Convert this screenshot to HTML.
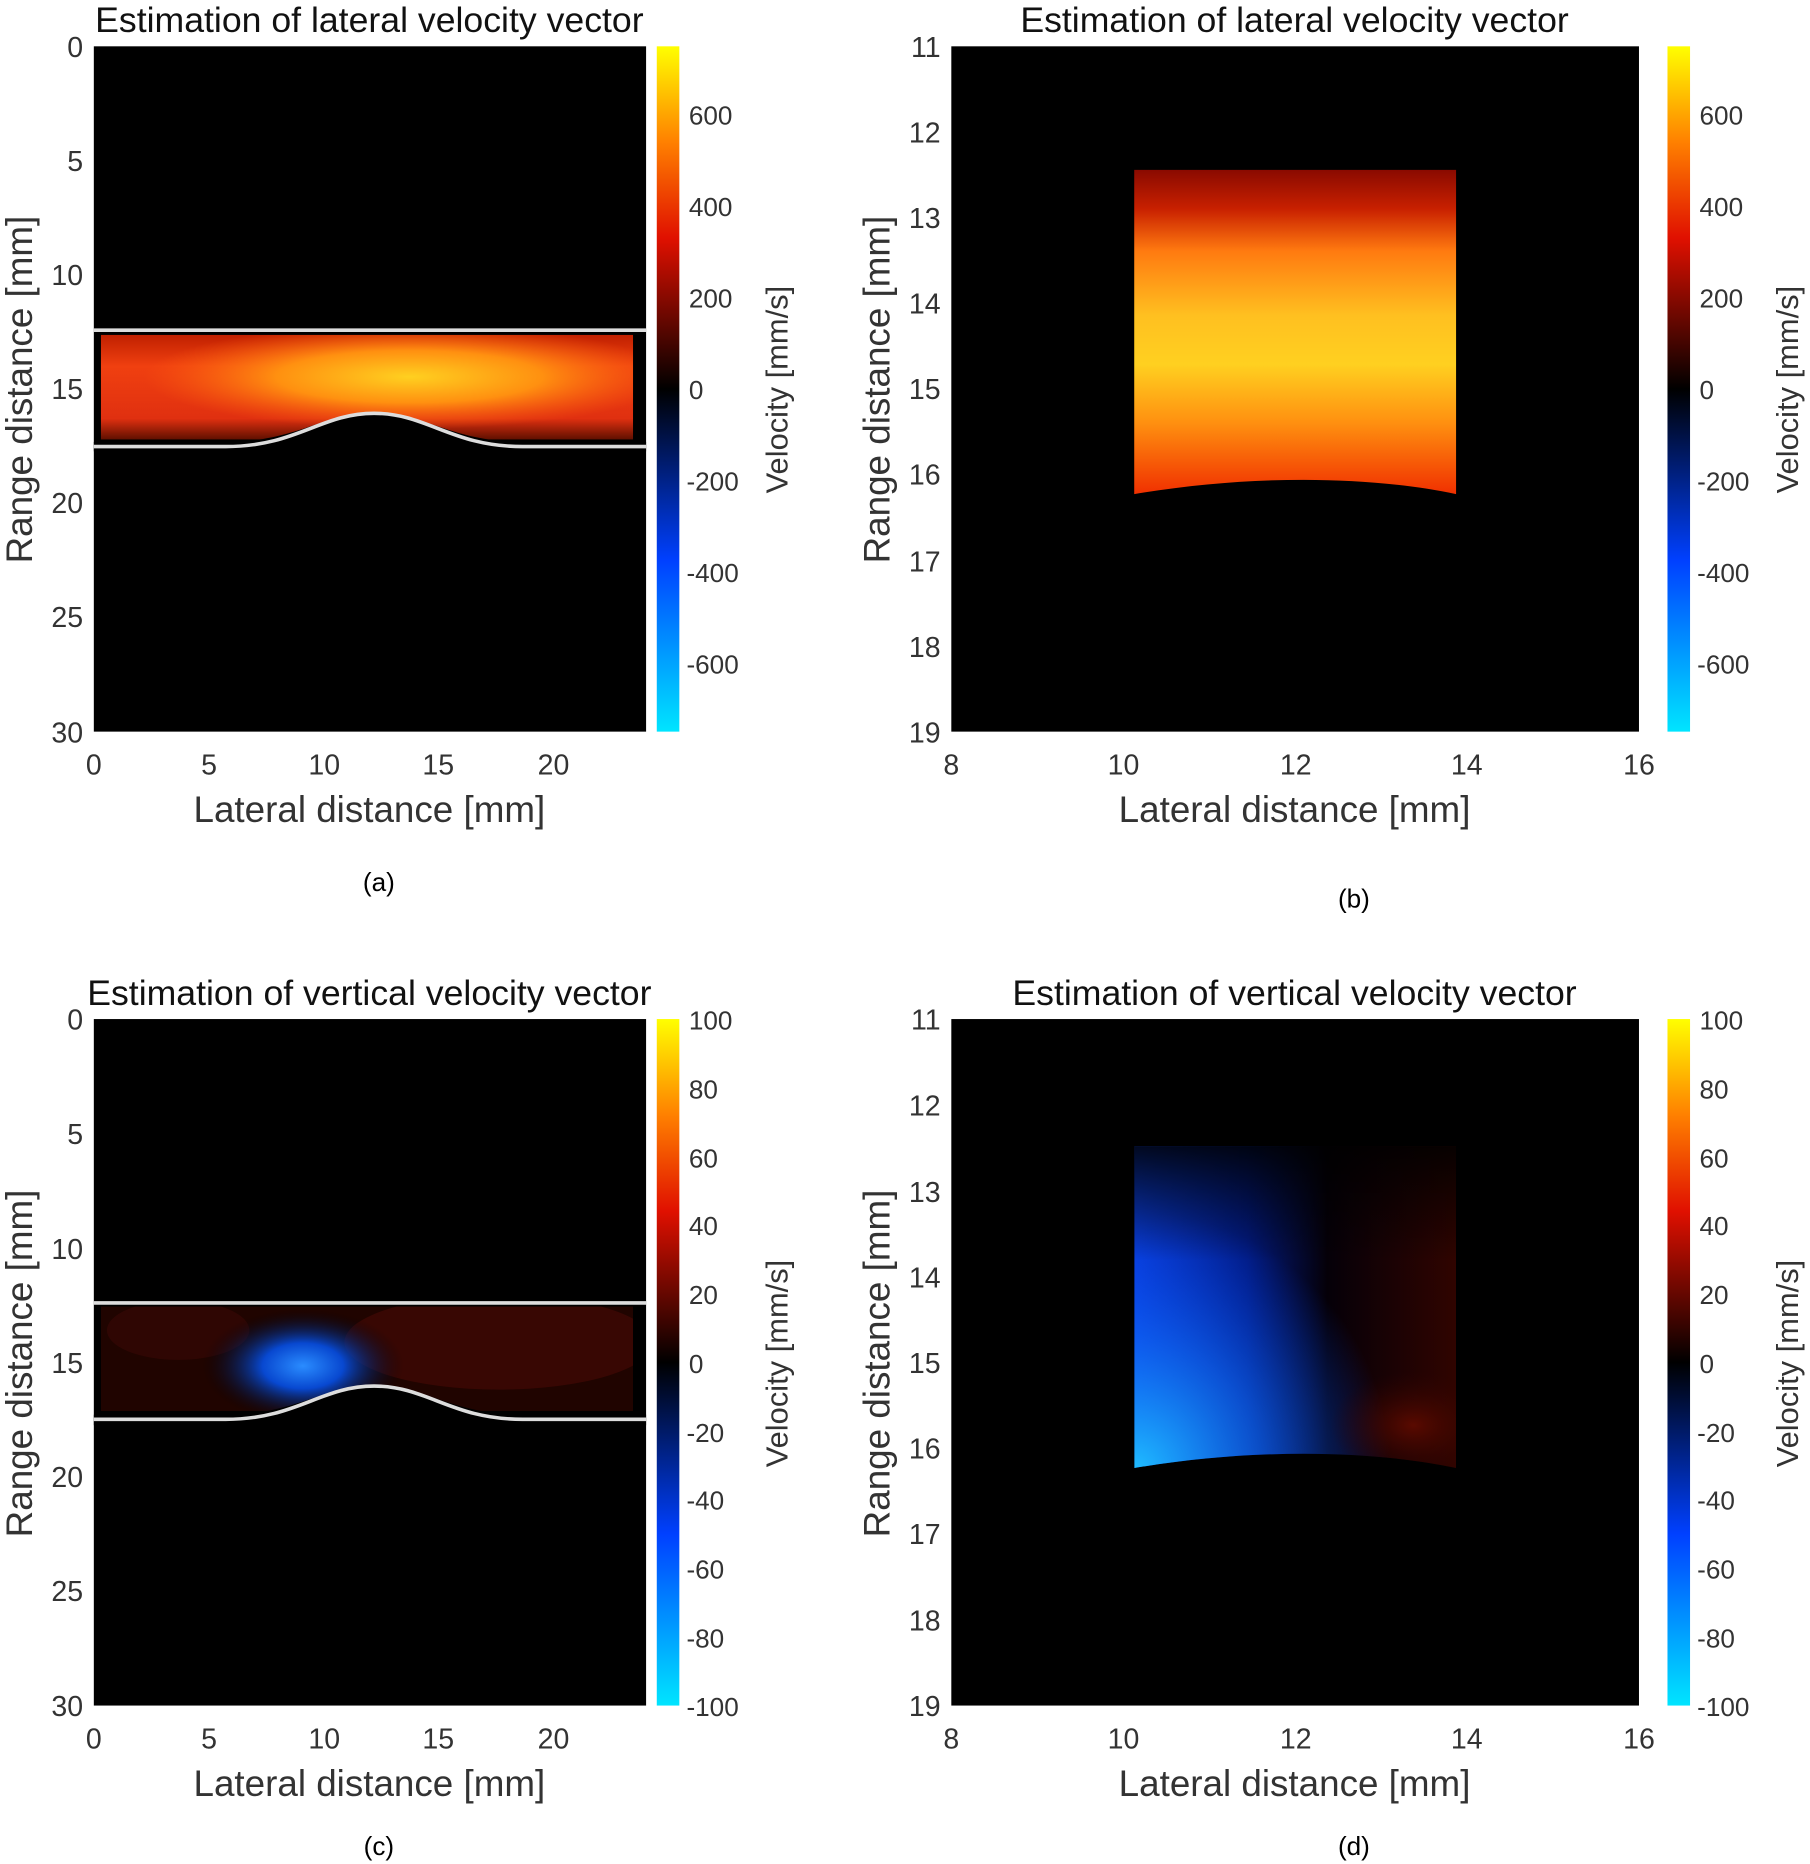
<!DOCTYPE html>
<html><head><meta charset="utf-8"><style>html,body{margin:0;padding:0;background:#fff}svg{display:block}</style></head><body>
<svg width="1810" height="1864" viewBox="0 0 1524 1569.4" preserveAspectRatio="none" xmlns="http://www.w3.org/2000/svg" font-family="'Liberation Sans', sans-serif">
<defs>
<linearGradient id="cmap" x1="0" y1="1" x2="0" y2="0">
<stop offset="0" stop-color="#00e5ff"/><stop offset="0.25" stop-color="#0040ff"/><stop offset="0.5" stop-color="#000"/>
<stop offset="0.72" stop-color="#e01000"/><stop offset="0.86" stop-color="#ff8000"/><stop offset="1" stop-color="#ffff00"/></linearGradient>
<radialGradient id="aGlow" cx="0.58" cy="0.4" r="0.5"><stop offset="0" stop-color="#ffd020"/><stop offset="0.5" stop-color="#ff9010"/><stop offset="1" stop-color="#ff6010" stop-opacity="0"/></radialGradient>
<linearGradient id="aV" x1="0" y1="0" x2="0" y2="1"><stop offset="0" stop-color="#c02000"/><stop offset="0.3" stop-color="#f04010"/><stop offset="0.8" stop-color="#e03010"/><stop offset="1" stop-color="#601000"/></linearGradient>
<linearGradient id="bGrad" x1="0" y1="0" x2="0" y2="1">
<stop offset="0" stop-color="#8a0a00"/><stop offset="0.12" stop-color="#c82000"/><stop offset="0.25" stop-color="#ff7a10"/><stop offset="0.45" stop-color="#ffc020"/><stop offset="0.6" stop-color="#ffd020"/><stop offset="0.78" stop-color="#ff9010"/><stop offset="1" stop-color="#f03000"/></linearGradient>
<radialGradient id="cBlob" cx="0.5" cy="0.5" r="0.5"><stop offset="0" stop-color="#2a8cff"/><stop offset="0.4" stop-color="#0848d0"/><stop offset="1" stop-color="#000" stop-opacity="0"/></radialGradient>
<linearGradient id="dGrad" x1="0" y1="0" x2="1" y2="0"><stop offset="0" stop-color="#0a3cd8"/><stop offset="0.35" stop-color="#021a80"/><stop offset="0.6" stop-color="#050008"/><stop offset="1" stop-color="#300400"/></linearGradient>
<radialGradient id="dCyan" cx="0" cy="1" r="0.8"><stop offset="0" stop-color="#20c0ff"/><stop offset="0.5" stop-color="#1070ff" stop-opacity="0.6"/><stop offset="1" stop-color="#0040ff" stop-opacity="0"/></radialGradient>
<linearGradient id="dTop" x1="0" y1="0" x2="0" y2="1"><stop offset="0" stop-color="#000" stop-opacity="0.85"/><stop offset="0.35" stop-color="#000" stop-opacity="0"/></linearGradient>
<radialGradient id="dRed" cx="0.5" cy="0.5" r="0.5"><stop offset="0" stop-color="#5a0a00"/><stop offset="1" stop-color="#300400" stop-opacity="0"/></radialGradient>
<clipPath id="dClip"><path d="M955,965 L1226,965 L1226,1236 C1150,1220 1050,1220 955,1236Z"/></clipPath>
<clipPath id="cClip"><rect x="85" y="1100" width="448" height="88"/></clipPath>
</defs>
<g font-size="24" fill="#333">
<!-- Panel a -->
<text x="311" y="27" text-anchor="middle" font-size="30" fill="#111">Estimation of lateral velocity vector</text>
<rect x="79" y="39" width="465" height="577" fill="#000"/>
<rect x="85" y="282" width="448" height="88" fill="url(#aV)"/>
<rect x="85" y="282" width="448" height="88" fill="url(#aGlow)"/>
<path d="M79,372 L190,372 C250,372 270,348 315,348 C360,348 380,372 440,372 L544,372 L544,380 L79,380Z" fill="#000"/>
<line x1="79" y1="278" x2="544" y2="278" stroke="#ddd" stroke-width="3"/>
<path d="M79,376 L190,376 C250,376 270,348 315,348 C360,348 380,376 440,376 L544,376" fill="none" stroke="#ddd" stroke-width="3"/>
<rect x="553" y="39" width="19" height="577" fill="url(#cmap)"/>
<g text-anchor="end"><text x="70" y="48">0</text><text x="70" y="144">5</text><text x="70" y="240">10</text><text x="70" y="336">15</text><text x="70" y="432">20</text><text x="70" y="528">25</text><text x="70" y="625">30</text></g>
<g text-anchor="middle"><text x="79" y="652">0</text><text x="176" y="652">5</text><text x="273" y="652">10</text><text x="369" y="652">15</text><text x="466" y="652">20</text></g>
<text x="311" y="692" text-anchor="middle" font-size="31">Lateral distance [mm]</text>
<text transform="translate(27,328) rotate(-90)" text-anchor="middle" font-size="31">Range distance [mm]</text>
<g font-size="22"><text x="580" y="105">600</text><text x="580" y="182">400</text><text x="580" y="259">200</text><text x="580" y="336">0</text><text x="578" y="413">-200</text><text x="578" y="490">-400</text><text x="578" y="567">-600</text></g>
<text transform="translate(663,328) rotate(-90)" text-anchor="middle" font-size="26">Velocity [mm/s]</text>
<text x="319" y="750" text-anchor="middle" font-size="22" fill="#000">(a)</text>

<!-- Panel b -->
<text x="1090" y="27" text-anchor="middle" font-size="30" fill="#111">Estimation of lateral velocity vector</text>
<rect x="801" y="39" width="579" height="577" fill="#000"/>
<path d="M955,143 L1226,143 L1226,416 C1150,400 1050,400 955,416Z" fill="url(#bGrad)"/>
<rect x="1404" y="39" width="19" height="577" fill="url(#cmap)"/>
<g text-anchor="end"><text x="792" y="48">11</text><text x="792" y="120">12</text><text x="792" y="192">13</text><text x="792" y="264">14</text><text x="792" y="336">15</text><text x="792" y="408">16</text><text x="792" y="481">17</text><text x="792" y="553">18</text><text x="792" y="625">19</text></g>
<g text-anchor="middle"><text x="801" y="652">8</text><text x="946" y="652">10</text><text x="1091" y="652">12</text><text x="1235" y="652">14</text><text x="1380" y="652">16</text></g>
<text x="1090" y="692" text-anchor="middle" font-size="31">Lateral distance [mm]</text>
<text transform="translate(749,328) rotate(-90)" text-anchor="middle" font-size="31">Range distance [mm]</text>
<g font-size="22"><text x="1431" y="105">600</text><text x="1431" y="182">400</text><text x="1431" y="259">200</text><text x="1431" y="336">0</text><text x="1429" y="413">-200</text><text x="1429" y="490">-400</text><text x="1429" y="567">-600</text></g>
<text transform="translate(1514,328) rotate(-90)" text-anchor="middle" font-size="26">Velocity [mm/s]</text>
<text x="1140" y="764" text-anchor="middle" font-size="22" fill="#000">(b)</text>

<!-- Panel c -->
<text x="311" y="846" text-anchor="middle" font-size="30" fill="#111">Estimation of vertical velocity vector</text>
<rect x="79" y="858" width="465" height="578" fill="#000"/>
<rect x="85" y="1100" width="448" height="88" fill="#200400"/>
<g clip-path="url(#cClip)">
<ellipse cx="420" cy="1130" rx="130" ry="40" fill="#4a0a05" opacity="0.6"/>
<ellipse cx="150" cy="1120" rx="60" ry="25" fill="#3a0805" opacity="0.6"/>
<ellipse cx="255" cy="1150" rx="85" ry="48" fill="url(#cBlob)"/>
</g>
<path d="M79,1191 L190,1191 C250,1191 270,1167 315,1167 C360,1167 380,1191 440,1191 L544,1191 L544,1200 L79,1200Z" fill="#000"/>
<line x1="79" y1="1097" x2="544" y2="1097" stroke="#ddd" stroke-width="3"/>
<path d="M79,1195 L190,1195 C250,1195 270,1167 315,1167 C360,1167 380,1195 440,1195 L544,1195" fill="none" stroke="#ddd" stroke-width="3"/>
<rect x="553" y="858" width="19" height="578" fill="url(#cmap)"/>
<g text-anchor="end"><text x="70" y="867">0</text><text x="70" y="963">5</text><text x="70" y="1060">10</text><text x="70" y="1156">15</text><text x="70" y="1252">20</text><text x="70" y="1348">25</text><text x="70" y="1445">30</text></g>
<g text-anchor="middle"><text x="79" y="1472">0</text><text x="176" y="1472">5</text><text x="273" y="1472">10</text><text x="369" y="1472">15</text><text x="466" y="1472">20</text></g>
<text x="311" y="1512" text-anchor="middle" font-size="31">Lateral distance [mm]</text>
<text transform="translate(27,1148) rotate(-90)" text-anchor="middle" font-size="31">Range distance [mm]</text>
<g font-size="22"><text x="580" y="867">100</text><text x="580" y="925">80</text><text x="580" y="983">60</text><text x="580" y="1040">40</text><text x="580" y="1098">20</text><text x="580" y="1156">0</text><text x="578" y="1214">-20</text><text x="578" y="1271">-40</text><text x="578" y="1329">-60</text><text x="578" y="1387">-80</text><text x="578" y="1445">-100</text></g>
<text transform="translate(663,1148) rotate(-90)" text-anchor="middle" font-size="26">Velocity [mm/s]</text>
<text x="319" y="1562" text-anchor="middle" font-size="22" fill="#000">(c)</text>

<!-- Panel d -->
<text x="1090" y="846" text-anchor="middle" font-size="30" fill="#111">Estimation of vertical velocity vector</text>
<rect x="801" y="858" width="579" height="578" fill="#000"/>
<g clip-path="url(#dClip)">
<rect x="955" y="965" width="271" height="275" fill="url(#dGrad)"/>
<rect x="955" y="965" width="271" height="275" fill="url(#dCyan)"/>
<ellipse cx="1190" cy="1200" rx="70" ry="45" fill="url(#dRed)"/>
<rect x="955" y="965" width="271" height="275" fill="url(#dTop)"/>
</g>
<rect x="1404" y="858" width="19" height="578" fill="url(#cmap)"/>
<g text-anchor="end"><text x="792" y="867">11</text><text x="792" y="939">12</text><text x="792" y="1012">13</text><text x="792" y="1084">14</text><text x="792" y="1156">15</text><text x="792" y="1228">16</text><text x="792" y="1300">17</text><text x="792" y="1373">18</text><text x="792" y="1445">19</text></g>
<g text-anchor="middle"><text x="801" y="1472">8</text><text x="946" y="1472">10</text><text x="1091" y="1472">12</text><text x="1235" y="1472">14</text><text x="1380" y="1472">16</text></g>
<text x="1090" y="1512" text-anchor="middle" font-size="31">Lateral distance [mm]</text>
<text transform="translate(749,1148) rotate(-90)" text-anchor="middle" font-size="31">Range distance [mm]</text>
<g font-size="22"><text x="1431" y="867">100</text><text x="1431" y="925">80</text><text x="1431" y="983">60</text><text x="1431" y="1040">40</text><text x="1431" y="1098">20</text><text x="1431" y="1156">0</text><text x="1429" y="1214">-20</text><text x="1429" y="1271">-40</text><text x="1429" y="1329">-60</text><text x="1429" y="1387">-80</text><text x="1429" y="1445">-100</text></g>
<text transform="translate(1514,1148) rotate(-90)" text-anchor="middle" font-size="26">Velocity [mm/s]</text>
<text x="1140" y="1562" text-anchor="middle" font-size="22" fill="#000">(d)</text>
</g>
</svg>
</body></html>
